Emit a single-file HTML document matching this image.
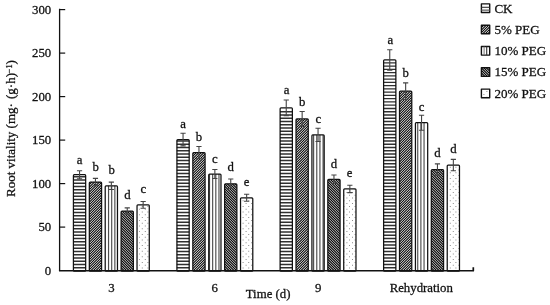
<!DOCTYPE html>
<html><head><meta charset="utf-8"><title>Root vitality</title>
<style>
html,body{margin:0;padding:0;background:#fff;}
svg{display:block;}
text{font-family:"Liberation Serif","Times New Roman",serif;fill:#111;stroke:#111;stroke-width:0.28px;}
</style></head><body>
<svg width="550" height="305" viewBox="0 0 550 305">
<defs>
<pattern id="p0" patternUnits="userSpaceOnUse" width="4" height="3.27" y="0.9"><rect width="4" height="3.27" fill="#fff"/><rect y="0" width="4" height="1.3" fill="#3a3a3a"/></pattern>
<pattern id="p1" patternUnits="userSpaceOnUse" width="5" height="5"><rect width="5" height="5" fill="#0c0c0c"/><path d="M-3.75,-1 L-1,-3.75 M-1.25,-1 L-1,-1.25 M1.25,-1 L-1,1.25 M3.75,-1 L-1,3.75 M6.25,-1 L-1,6.25 M8.75,-1 L-1,8.75 M11.25,-1 L-1,11.25 M13.75,-1 L-1,13.75 M16.25,-1 L-1,16.25" stroke="#fff" stroke-width="0.95" fill="none"/></pattern>
<pattern id="p2" patternUnits="userSpaceOnUse" width="3.15" height="4" x="1.3"><rect width="3.15" height="4" fill="#fff"/><rect x="0" width="1.1" height="4" fill="#5a5a5a"/></pattern>
<pattern id="p3" patternUnits="userSpaceOnUse" width="5" height="5"><rect width="5" height="5" fill="#080808"/><path d="M-1,-10.75 L6.00,-3.75 M-1,-8.25 L6.00,-1.25 M-1,-5.75 L6.00,1.25 M-1,-3.25 L6.00,3.75 M-1,-0.75 L6.00,6.25 M-1,1.75 L6.00,8.75 M-1,4.25 L6.00,11.25 M-1,6.75 L6.00,13.75 M-1,9.25 L6.00,16.25" stroke="#fff" stroke-width="0.8" fill="none"/></pattern>
<pattern id="p4" patternUnits="userSpaceOnUse" width="28" height="28"><rect width="28" height="28" fill="#fff"/><path d="M4.8,1.5h1v1h-1z M1.8,4.3h1v1h-1z M4.8,7.1h1v1h-1z M1.8,9.9h1v1h-1z M4.8,12.7h1v1h-1z M1.8,15.5h1v1h-1z M4.8,18.3h1v1h-1z M1.8,21.1h1v1h-1z M4.8,23.9h1v1h-1z M1.8,26.7h1v1h-1z M10.4,1.5h1v1h-1z M7.4,4.3h1v1h-1z M10.4,7.1h1v1h-1z M7.4,9.9h1v1h-1z M10.4,12.7h1v1h-1z M7.4,15.5h1v1h-1z M10.4,18.3h1v1h-1z M7.4,21.1h1v1h-1z M10.4,23.9h1v1h-1z M7.4,26.7h1v1h-1z M16.0,1.5h1v1h-1z M13.0,4.3h1v1h-1z M16.0,7.1h1v1h-1z M13.0,9.9h1v1h-1z M16.0,12.7h1v1h-1z M13.0,15.5h1v1h-1z M16.0,18.3h1v1h-1z M13.0,21.1h1v1h-1z M16.0,23.9h1v1h-1z M13.0,26.7h1v1h-1z M21.6,1.5h1v1h-1z M18.6,4.3h1v1h-1z M21.6,7.1h1v1h-1z M18.6,9.9h1v1h-1z M21.6,12.7h1v1h-1z M18.6,15.5h1v1h-1z M21.6,18.3h1v1h-1z M18.6,21.1h1v1h-1z M21.6,23.9h1v1h-1z M18.6,26.7h1v1h-1z M27.2,1.5h1v1h-1z M24.2,4.3h1v1h-1z M27.2,7.1h1v1h-1z M24.2,9.9h1v1h-1z M27.2,12.7h1v1h-1z M24.2,15.5h1v1h-1z M27.2,18.3h1v1h-1z M24.2,21.1h1v1h-1z M27.2,23.9h1v1h-1z M24.2,26.7h1v1h-1z" fill="#8c8c8c"/></pattern>
</defs>
<rect width="550" height="305" fill="#fff"/>

<rect x="73.42" y="174.73" width="12.25" height="96.37" fill="#fff"/>
<path d="M73.30,176.72h12.50M73.30,179.97h12.50M73.30,183.22h12.50M73.30,186.47h12.50M73.30,189.73h12.50M73.30,192.98h12.50M73.30,196.23h12.50M73.30,199.48h12.50M73.30,202.73h12.50M73.30,205.99h12.50M73.30,209.24h12.50M73.30,212.49h12.50M73.30,215.74h12.50M73.30,218.99h12.50M73.30,222.25h12.50M73.30,225.50h12.50M73.30,228.75h12.50M73.30,232.00h12.50M73.30,235.25h12.50M73.30,238.51h12.50M73.30,241.76h12.50M73.30,245.01h12.50M73.30,248.26h12.50M73.30,251.51h12.50M73.30,254.77h12.50M73.30,258.02h12.50M73.30,261.27h12.50M73.30,264.52h12.50M73.30,267.77h12.50" stroke="#303030" stroke-width="1.4" fill="none"/>
<rect x="73.42" y="174.73" width="12.25" height="96.37" fill="none" stroke="#111" stroke-width="1.25" stroke-linejoin="round" rx="0.9"/>
<path d="M79.55,170.33 V179.13 M76.95,170.73 h5.2 M76.95,178.73 h5.2" stroke="#444" stroke-width="1.1" fill="none"/>
<text x="79.70" y="163.80" font-size="12.8" text-anchor="middle">a</text>
<rect x="89.33" y="182.12" width="12.25" height="88.98" fill="url(#p1)" stroke="#111" stroke-width="1.25" stroke-linejoin="round" rx="0.9"/>
<path d="M95.45,178.02 V186.22 M92.85,178.42 h5.2 M92.85,185.82 h5.2" stroke="#444" stroke-width="1.1" fill="none"/>
<text x="95.70" y="170.60" font-size="12.8" text-anchor="middle">b</text>
<rect x="105.22" y="185.78" width="12.25" height="85.32" fill="#fff"/>
<path d="M108.55,185.78V270.60M111.70,185.78V270.60M114.86,185.78V270.60" stroke="#4c4c4c" stroke-width="1.15" fill="none"/>
<rect x="105.22" y="185.78" width="12.25" height="85.32" fill="none" stroke="#111" stroke-width="1.25" stroke-linejoin="round" rx="0.9"/>
<path d="M111.35,181.68 V189.88 M108.75,182.08 h5.2 M108.75,189.48 h5.2" stroke="#444" stroke-width="1.1" fill="none"/>
<text x="111.80" y="174.05" font-size="12.8" text-anchor="middle">b</text>
<rect x="121.12" y="211.01" width="12.25" height="60.09" fill="url(#p3)" stroke="#111" stroke-width="1.25" stroke-linejoin="round" rx="0.9"/>
<path d="M127.25,207.51 V214.51 M124.65,207.91 h5.2 M124.65,214.11 h5.2" stroke="#444" stroke-width="1.1" fill="none"/>
<text x="127.40" y="198.70" font-size="12.8" text-anchor="middle">d</text>
<rect x="137.03" y="204.83" width="12.25" height="66.27" fill="url(#p4)" stroke="#111" stroke-width="1.25" stroke-linejoin="round" rx="0.9"/>
<path d="M143.15,201.03 V208.63 M140.55,201.43 h5.2 M140.55,208.23 h5.2" stroke="#444" stroke-width="1.1" fill="none"/>
<text x="143.40" y="192.80" font-size="12.8" text-anchor="middle">c</text>
<rect x="176.93" y="139.58" width="12.25" height="131.52" fill="#fff"/>
<path d="M176.80,140.95h12.50M176.80,144.20h12.50M176.80,147.45h12.50M176.80,150.70h12.50M176.80,153.95h12.50M176.80,157.21h12.50M176.80,160.46h12.50M176.80,163.71h12.50M176.80,166.96h12.50M176.80,170.21h12.50M176.80,173.47h12.50M176.80,176.72h12.50M176.80,179.97h12.50M176.80,183.22h12.50M176.80,186.47h12.50M176.80,189.73h12.50M176.80,192.98h12.50M176.80,196.23h12.50M176.80,199.48h12.50M176.80,202.73h12.50M176.80,205.99h12.50M176.80,209.24h12.50M176.80,212.49h12.50M176.80,215.74h12.50M176.80,218.99h12.50M176.80,222.25h12.50M176.80,225.50h12.50M176.80,228.75h12.50M176.80,232.00h12.50M176.80,235.25h12.50M176.80,238.51h12.50M176.80,241.76h12.50M176.80,245.01h12.50M176.80,248.26h12.50M176.80,251.51h12.50M176.80,254.77h12.50M176.80,258.02h12.50M176.80,261.27h12.50M176.80,264.52h12.50M176.80,267.77h12.50" stroke="#303030" stroke-width="1.4" fill="none"/>
<rect x="176.93" y="139.58" width="12.25" height="131.52" fill="none" stroke="#111" stroke-width="1.25" stroke-linejoin="round" rx="0.9"/>
<path d="M183.05,132.88 V146.28 M180.45,133.28 h5.2 M180.45,145.88 h5.2" stroke="#444" stroke-width="1.1" fill="none"/>
<text x="183.00" y="128.00" font-size="12.8" text-anchor="middle">a</text>
<rect x="192.83" y="152.54" width="12.25" height="118.56" fill="url(#p1)" stroke="#111" stroke-width="1.25" stroke-linejoin="round" rx="0.9"/>
<path d="M198.95,146.04 V159.04 M196.35,146.44 h5.2 M196.35,158.64 h5.2" stroke="#444" stroke-width="1.1" fill="none"/>
<text x="198.90" y="140.50" font-size="12.8" text-anchor="middle">b</text>
<rect x="208.73" y="174.03" width="12.25" height="97.07" fill="#fff"/>
<path d="M209.51,174.03V270.60M212.66,174.03V270.60M215.82,174.03V270.60M218.97,174.03V270.60" stroke="#4c4c4c" stroke-width="1.15" fill="none"/>
<rect x="208.73" y="174.03" width="12.25" height="97.07" fill="none" stroke="#111" stroke-width="1.25" stroke-linejoin="round" rx="0.9"/>
<path d="M214.85,169.13 V178.93 M212.25,169.53 h5.2 M212.25,178.53 h5.2" stroke="#444" stroke-width="1.1" fill="none"/>
<text x="214.90" y="162.50" font-size="12.8" text-anchor="middle">c</text>
<rect x="224.62" y="183.77" width="12.25" height="87.33" fill="url(#p3)" stroke="#111" stroke-width="1.25" stroke-linejoin="round" rx="0.9"/>
<path d="M230.75,178.57 V188.97 M228.15,178.97 h5.2 M228.15,188.57 h5.2" stroke="#444" stroke-width="1.1" fill="none"/>
<text x="230.70" y="171.40" font-size="12.8" text-anchor="middle">d</text>
<rect x="240.53" y="197.78" width="12.25" height="73.32" fill="url(#p4)" stroke="#111" stroke-width="1.25" stroke-linejoin="round" rx="0.9"/>
<path d="M246.65,193.88 V201.68 M244.05,194.28 h5.2 M244.05,201.28 h5.2" stroke="#444" stroke-width="1.1" fill="none"/>
<text x="246.50" y="186.20" font-size="12.8" text-anchor="middle">e</text>
<rect x="280.12" y="107.82" width="12.25" height="163.28" fill="#fff"/>
<path d="M280.00,111.68h12.50M280.00,114.93h12.50M280.00,118.18h12.50M280.00,121.43h12.50M280.00,124.69h12.50M280.00,127.94h12.50M280.00,131.19h12.50M280.00,134.44h12.50M280.00,137.69h12.50M280.00,140.95h12.50M280.00,144.20h12.50M280.00,147.45h12.50M280.00,150.70h12.50M280.00,153.95h12.50M280.00,157.21h12.50M280.00,160.46h12.50M280.00,163.71h12.50M280.00,166.96h12.50M280.00,170.21h12.50M280.00,173.47h12.50M280.00,176.72h12.50M280.00,179.97h12.50M280.00,183.22h12.50M280.00,186.47h12.50M280.00,189.73h12.50M280.00,192.98h12.50M280.00,196.23h12.50M280.00,199.48h12.50M280.00,202.73h12.50M280.00,205.99h12.50M280.00,209.24h12.50M280.00,212.49h12.50M280.00,215.74h12.50M280.00,218.99h12.50M280.00,222.25h12.50M280.00,225.50h12.50M280.00,228.75h12.50M280.00,232.00h12.50M280.00,235.25h12.50M280.00,238.51h12.50M280.00,241.76h12.50M280.00,245.01h12.50M280.00,248.26h12.50M280.00,251.51h12.50M280.00,254.77h12.50M280.00,258.02h12.50M280.00,261.27h12.50M280.00,264.52h12.50M280.00,267.77h12.50" stroke="#303030" stroke-width="1.4" fill="none"/>
<rect x="280.12" y="107.82" width="12.25" height="163.28" fill="none" stroke="#111" stroke-width="1.25" stroke-linejoin="round" rx="0.9"/>
<path d="M286.25,99.62 V116.02 M283.65,100.02 h5.2 M283.65,115.62 h5.2" stroke="#444" stroke-width="1.1" fill="none"/>
<text x="286.50" y="93.90" font-size="12.8" text-anchor="middle">a</text>
<rect x="296.02" y="118.96" width="12.25" height="152.14" fill="url(#p1)" stroke="#111" stroke-width="1.25" stroke-linejoin="round" rx="0.9"/>
<path d="M302.15,111.16 V126.76 M299.55,111.56 h5.2 M299.55,126.36 h5.2" stroke="#444" stroke-width="1.1" fill="none"/>
<text x="302.20" y="106.20" font-size="12.8" text-anchor="middle">b</text>
<rect x="311.93" y="134.88" width="12.25" height="136.22" fill="#fff"/>
<path d="M313.62,134.88V270.60M316.78,134.88V270.60M319.93,134.88V270.60M323.09,134.88V270.60" stroke="#4c4c4c" stroke-width="1.15" fill="none"/>
<rect x="311.93" y="134.88" width="12.25" height="136.22" fill="none" stroke="#111" stroke-width="1.25" stroke-linejoin="round" rx="0.9"/>
<path d="M318.05,127.88 V141.88 M315.45,128.28 h5.2 M315.45,141.48 h5.2" stroke="#444" stroke-width="1.1" fill="none"/>
<text x="318.25" y="123.30" font-size="12.8" text-anchor="middle">c</text>
<rect x="327.82" y="179.25" width="12.25" height="91.85" fill="url(#p3)" stroke="#111" stroke-width="1.25" stroke-linejoin="round" rx="0.9"/>
<path d="M333.95,174.55 V183.95 M331.35,174.95 h5.2 M331.35,183.55 h5.2" stroke="#444" stroke-width="1.1" fill="none"/>
<text x="333.90" y="167.70" font-size="12.8" text-anchor="middle">d</text>
<rect x="343.73" y="188.91" width="12.25" height="82.19" fill="url(#p4)" stroke="#111" stroke-width="1.25" stroke-linejoin="round" rx="0.9"/>
<path d="M349.85,184.81 V193.01 M347.25,185.21 h5.2 M347.25,192.61 h5.2" stroke="#444" stroke-width="1.1" fill="none"/>
<text x="349.70" y="177.40" font-size="12.8" text-anchor="middle">e</text>
<rect x="383.62" y="59.89" width="12.25" height="211.21" fill="#fff"/>
<path d="M383.50,62.90h12.50M383.50,66.15h12.50M383.50,69.40h12.50M383.50,72.65h12.50M383.50,75.91h12.50M383.50,79.16h12.50M383.50,82.41h12.50M383.50,85.66h12.50M383.50,88.91h12.50M383.50,92.17h12.50M383.50,95.42h12.50M383.50,98.67h12.50M383.50,101.92h12.50M383.50,105.17h12.50M383.50,108.43h12.50M383.50,111.68h12.50M383.50,114.93h12.50M383.50,118.18h12.50M383.50,121.43h12.50M383.50,124.69h12.50M383.50,127.94h12.50M383.50,131.19h12.50M383.50,134.44h12.50M383.50,137.69h12.50M383.50,140.95h12.50M383.50,144.20h12.50M383.50,147.45h12.50M383.50,150.70h12.50M383.50,153.95h12.50M383.50,157.21h12.50M383.50,160.46h12.50M383.50,163.71h12.50M383.50,166.96h12.50M383.50,170.21h12.50M383.50,173.47h12.50M383.50,176.72h12.50M383.50,179.97h12.50M383.50,183.22h12.50M383.50,186.47h12.50M383.50,189.73h12.50M383.50,192.98h12.50M383.50,196.23h12.50M383.50,199.48h12.50M383.50,202.73h12.50M383.50,205.99h12.50M383.50,209.24h12.50M383.50,212.49h12.50M383.50,215.74h12.50M383.50,218.99h12.50M383.50,222.25h12.50M383.50,225.50h12.50M383.50,228.75h12.50M383.50,232.00h12.50M383.50,235.25h12.50M383.50,238.51h12.50M383.50,241.76h12.50M383.50,245.01h12.50M383.50,248.26h12.50M383.50,251.51h12.50M383.50,254.77h12.50M383.50,258.02h12.50M383.50,261.27h12.50M383.50,264.52h12.50M383.50,267.77h12.50" stroke="#303030" stroke-width="1.4" fill="none"/>
<rect x="383.62" y="59.89" width="12.25" height="211.21" fill="none" stroke="#111" stroke-width="1.25" stroke-linejoin="round" rx="0.9"/>
<path d="M389.75,49.29 V70.49 M387.15,49.69 h5.2 M387.15,70.09 h5.2" stroke="#444" stroke-width="1.1" fill="none"/>
<text x="390.30" y="43.90" font-size="12.8" text-anchor="middle">a</text>
<rect x="399.52" y="91.21" width="12.25" height="179.89" fill="url(#p1)" stroke="#111" stroke-width="1.25" stroke-linejoin="round" rx="0.9"/>
<path d="M405.65,82.51 V99.91 M403.05,82.91 h5.2 M403.05,99.51 h5.2" stroke="#444" stroke-width="1.1" fill="none"/>
<text x="405.80" y="77.20" font-size="12.8" text-anchor="middle">b</text>
<rect x="415.43" y="122.70" width="12.25" height="148.40" fill="#fff"/>
<path d="M417.74,122.70V270.60M420.89,122.70V270.60M424.05,122.70V270.60" stroke="#4c4c4c" stroke-width="1.15" fill="none"/>
<rect x="415.43" y="122.70" width="12.25" height="148.40" fill="none" stroke="#111" stroke-width="1.25" stroke-linejoin="round" rx="0.9"/>
<path d="M421.55,114.80 V130.60 M418.95,115.20 h5.2 M418.95,130.20 h5.2" stroke="#444" stroke-width="1.1" fill="none"/>
<text x="421.50" y="110.90" font-size="12.8" text-anchor="middle">c</text>
<rect x="431.32" y="169.51" width="12.25" height="101.59" fill="url(#p3)" stroke="#111" stroke-width="1.25" stroke-linejoin="round" rx="0.9"/>
<path d="M437.45,163.51 V175.51 M434.85,163.91 h5.2 M434.85,175.11 h5.2" stroke="#444" stroke-width="1.1" fill="none"/>
<text x="437.50" y="157.30" font-size="12.8" text-anchor="middle">d</text>
<rect x="447.23" y="165.07" width="12.25" height="106.03" fill="url(#p4)" stroke="#111" stroke-width="1.25" stroke-linejoin="round" rx="0.9"/>
<path d="M453.35,158.97 V171.17 M450.75,159.37 h5.2 M450.75,170.77 h5.2" stroke="#444" stroke-width="1.1" fill="none"/>
<text x="453.40" y="153.20" font-size="12.8" text-anchor="middle">d</text>
<path d="M59.6,8.7 V270.8" stroke="#111" stroke-width="1.3" fill="none"/>
<path d="M58.95,270.75 H473.3 v-3.4" stroke="#111" stroke-width="1.7" fill="none" stroke-linejoin="round"/>
<text x="51.2" y="274.90" font-size="12.8" text-anchor="end">0</text>
<path d="M59.6,227.10 h5.6" stroke="#111" stroke-width="1.2"/>
<text x="51.2" y="231.40" font-size="12.8" text-anchor="end">50</text>
<path d="M59.6,183.60 h5.6" stroke="#111" stroke-width="1.2"/>
<text x="51.2" y="187.90" font-size="12.8" text-anchor="end">100</text>
<path d="M59.6,140.10 h5.6" stroke="#111" stroke-width="1.2"/>
<text x="51.2" y="144.40" font-size="12.8" text-anchor="end">150</text>
<path d="M59.6,96.60 h5.6" stroke="#111" stroke-width="1.2"/>
<text x="51.2" y="100.90" font-size="12.8" text-anchor="end">200</text>
<path d="M59.6,53.10 h5.6" stroke="#111" stroke-width="1.2"/>
<text x="51.2" y="57.40" font-size="12.8" text-anchor="end">250</text>
<path d="M59.6,9.60 h5.6" stroke="#111" stroke-width="1.2"/>
<text x="51.2" y="13.90" font-size="12.8" text-anchor="end">300</text>
<text x="111.40" y="291.7" font-size="12.8" text-anchor="middle">3</text>
<text x="214.60" y="291.7" font-size="12.8" text-anchor="middle">6</text>
<text x="318.30" y="291.7" font-size="12.8" text-anchor="middle">9</text>
<text x="421.30" y="291.7" font-size="12.8" text-anchor="middle">Rehydration</text>
<text x="268.1" y="298.2" font-size="12.8" text-anchor="middle">Time (d)</text>
<text transform="translate(15.3,197) rotate(-90)" font-size="13">Root vitality (mg· <tspan dx="0.9">(g·h)</tspan><tspan font-size="8.3" dy="-3.7" dx="-0.2">−1</tspan><tspan dy="3.7" dx="-0.2">)</tspan></text>
<rect x="481.4" y="3.90" width="8.3" height="8.6" fill="#fff" stroke="#111" stroke-width="1.4" stroke-linejoin="round"/>
<path d="M481.4,7.30 h8.3" stroke="#333" stroke-width="1.1"/><path d="M481.4,10.15 h8.3" stroke="#666" stroke-width="1.3"/>
<text x="494.4" y="12.55" font-size="13.05">CK</text>
<rect x="481.4" y="25.20" width="8.3" height="8.6" fill="url(#p1)" stroke="#111" stroke-width="1.4" stroke-linejoin="round"/>
<text x="494.4" y="33.85" font-size="13.05">5% PEG</text>
<rect x="481.4" y="46.50" width="8.3" height="8.6" fill="#fff" stroke="#111" stroke-width="1.4" stroke-linejoin="round"/>
<path d="M484.1,46.50 v8.6" stroke="#777" stroke-width="1"/><path d="M486.7,46.50 v8.6" stroke="#333" stroke-width="1.1"/>
<text x="494.4" y="55.15" font-size="13.05">10% PEG</text>
<rect x="481.4" y="67.80" width="8.3" height="8.6" fill="url(#p3)" stroke="#111" stroke-width="1.4" stroke-linejoin="round"/>
<text x="494.4" y="76.45" font-size="13.05">15% PEG</text>
<rect x="481.4" y="89.10" width="8.3" height="8.6" fill="url(#p4)" stroke="#111" stroke-width="1.4" stroke-linejoin="round"/>
<text x="494.4" y="97.75" font-size="13.05">20% PEG</text>
</svg></body></html>
